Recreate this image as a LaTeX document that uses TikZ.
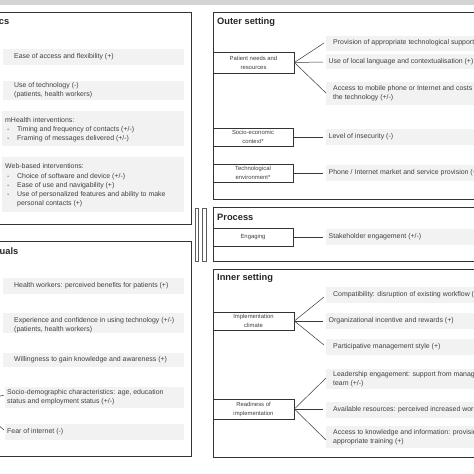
\documentclass[tikz,border=0pt]{standalone}
\usepackage{fontspec}
\setmainfont{Liberation Sans}
\definecolor{framec}{HTML}{333333}
\definecolor{itemc}{HTML}{F2F2F2}
\definecolor{txtc}{HTML}{404040}
\definecolor{bandc}{HTML}{D4D4D4}
\definecolor{linec}{HTML}{3A3A3A}
\newcommand\mysmallfont{\fontsize{6.95}{9.2}\selectfont}
\newcommand\mylblfont{\fontsize{5.9}{9}\selectfont}
\newcommand\mytitlefont{\fontsize{9.3}{11}\selectfont\bfseries}
\newcommand\dsh{\makebox[12pt][l]{\hspace{2pt}-}}
\tikzset{
  frame/.style={draw=framec, line width=0.8pt, fill=white},
  itembg/.style={fill=itemc, draw=none},
  txt/.style={font=\mysmallfont, text=txtc, inner sep=0pt, anchor=west, align=left},
  lbl/.style={draw=framec, line width=0.7pt, fill=white, font=\mylblfont, align=center, text=txtc, inner sep=0pt, minimum width=81pt},
  conn/.style={draw=linec, line width=0.5pt},
  ttl/.style={font=\mytitlefont, text=black!85, inner sep=0pt},
  bar/.style={draw=framec!80, line width=0.6pt, fill=white}
}
\begin{document}
\begin{tikzpicture}[x=1pt,y=-1pt]
\useasboundingbox (0,0) rectangle (474,474);
\clip (0,0) rectangle (474,474);
\fill[white] (0,0) rectangle (474,474);
\fill[bandc] (0,0) rectangle (474,5);

% ---------- left top box: Intervention characteristics ----------
\draw[frame] (-5,12) rectangle (191,224);
\node[ttl, anchor=east] (tIC) at (9.5,21) {Intervention characteristics};
\fill[itembg] (3,49) rectangle (184,65);
\node[txt] (ic1) at (14,57) {Ease of access and flexibility (+)};
\fill[itembg] (3,81) rectangle (184,100);
\node[txt] (ic2) at (14,90.5) {Use of technology (-)\\(patients, health workers)};
\fill[itembg] (2,111) rectangle (184,146);
\node[txt] (ic3) at (5,129.5) {mHealth interventions:\\\dsh Timing and frequency of contacts (+/-)\\\dsh Framing of messages delivered (+/-)};
\fill[itembg] (2,157) rectangle (184,212);
\node[txt] (ic4) at (5,185.5) {Web-based interventions:\\\dsh Choice of software and device (+/-)\\\dsh Ease of use and navigability (+)\\\dsh Use of personalized features and ability to make\\\hspace*{12pt}personal contacts (+)};

% ---------- left bottom box: Individuals ----------
\draw[frame] (-5,241) rectangle (191,456);
\node[ttl, anchor=east] (tInd) at (18.5,251) {Individuals};
\fill[itembg] (3,278) rectangle (184,294);
\node[txt] (in1) at (14,286) {Health workers: perceived benefits for patients (+)};
\fill[itembg] (3,313) rectangle (184,333);
\node[txt] (in2) at (14,325.5) {Experience and confidence in using technology (+/-)\\(patients, health workers)};
\fill[itembg] (3,353) rectangle (184,367);
\node[txt] (in3) at (14,360) {Willingness to gain knowledge and awareness (+)};
\fill[itembg] (5,387) rectangle (184,408);
\node[txt] (in4) at (7,397) {Socio-demographic characteristics: age, education\\status and employment status (+/-)};
\fill[itembg] (5,424) rectangle (184,440);
\node[txt] (in5) at (7,432) {Fear of internet (-)};
\coordinate (lc4) at (-3,397);
\coordinate (le4) at (4,395);
\coordinate (lc5) at (-3,424);
\coordinate (le5) at (4,430);
\draw[conn] (lc4) -- (le4);
\draw[conn] (lc5) -- (le5);

% ---------- bars ----------
\draw[bar] (195,208) rectangle (198.3,261);
\draw[bar] (202.3,208) rectangle (206,261);

% ---------- Outer setting ----------
\draw[frame] (213,12) rectangle (480,199);
\node[ttl, anchor=west] (tOut) at (217,22) {Outer setting};
\node[lbl, minimum height=21pt] (pn) at (253.5,62.5) {Patient needs and\\resources};
\fill[itembg] (326,36) rectangle (480,51);
\node[txt] (o1) at (333,43) {Provision of appropriate technological support (+)};
\fill[itembg] (326,54) rectangle (480,69);
\node[txt] (o2) at (328.5,61.5) {Use of local language and contextualisation (+)};
\fill[itembg] (326,82) rectangle (480,105);
\node[txt] (o3) at (333,93.5) {Access to mobile phone or Internet and costs of\\the technology (+/-)};
\coordinate (c1) at (324,43);
\coordinate (c2) at (323,62);
\coordinate (c3) at (326,93);
\draw[conn] (pn.east) -- (c1);
\draw[conn] (pn.east) -- (c2);
\draw[conn] (pn.east) -- (c3);

\node[lbl, minimum width=80pt, minimum height=18pt] (se) at (253,137) {Socio-economic\\context*};
\fill[itembg] (326,129) rectangle (480,145);
\node[txt] (o4) at (328.5,137) {Level of insecurity (-)};
\coordinate (c4) at (323,137);
\draw[conn] (se.east) -- (c4);

\node[lbl, minimum width=80pt, minimum height=18pt] (te) at (253,173) {Technological\\environment*};
\fill[itembg] (326,165) rectangle (480,181);
\node[txt] (o5) at (328.5,173) {Phone / Internet market and service provision (+)};
\coordinate (c5) at (323,173);
\draw[conn] (te.east) -- (c5);

% ---------- Process ----------
\draw[frame] (213,207) rectangle (480,261);
\node[ttl, anchor=west] (tPro) at (217,217) {Process};
\node[lbl, minimum width=80pt, minimum height=18pt] (eng) at (253,237) {Engaging};
\fill[itembg] (326,229) rectangle (480,245);
\node[txt] (p1) at (328.5,237) {Stakeholder engagement (+/-)};
\coordinate (c6) at (323,237);
\draw[conn] (eng.east) -- (c6);

% ---------- Inner setting ----------
\draw[frame] (213,269) rectangle (480,457);
\node[ttl, anchor=west] (tIn) at (217,278) {Inner setting};
\node[lbl, minimum height=18pt] (ic) at (253.5,321) {Implementation\\climate};
\fill[itembg] (326,287) rectangle (480,303);
\node[txt] (s1) at (333,295) {Compatibility: disruption of existing workflow (-)};
\fill[itembg] (326,313) rectangle (480,329);
\node[txt] (s2) at (328.5,321) {Organizational incentive and rewards (+)};
\fill[itembg] (326,339) rectangle (480,355);
\node[txt] (s3) at (333,347) {Participative management style (+)};
\coordinate (c7) at (324,297);
\coordinate (c8) at (323,321);
\coordinate (c9) at (324,345);
\draw[conn] (ic.east) -- (c7);
\draw[conn] (ic.east) -- (c8);
\draw[conn] (ic.east) -- (c9);

\node[lbl, minimum height=20pt] (ri) at (253.5,409) {Readiness of\\implementation};
\fill[itembg] (326,369) rectangle (480,389);
\node[txt] (s4) at (333,379.5) {Leadership engagement: support from management\\team (+/-)};
\fill[itembg] (326,402) rectangle (480,418);
\node[txt] (s5) at (333,410) {Available resources: perceived increased workload (-)};
\fill[itembg] (326,426) rectangle (480,448);
\node[txt] (s6) at (333,437.5) {Access to knowledge and information: provision of\\appropriate training (+)};
\coordinate (c10) at (326,378);
\coordinate (c11) at (323,409);
\coordinate (c12) at (326,440);
\draw[conn] (ri.east) -- (c10);
\draw[conn] (ri.east) -- (c11);
\draw[conn] (ri.east) -- (c12);
\end{tikzpicture}
\end{document}
